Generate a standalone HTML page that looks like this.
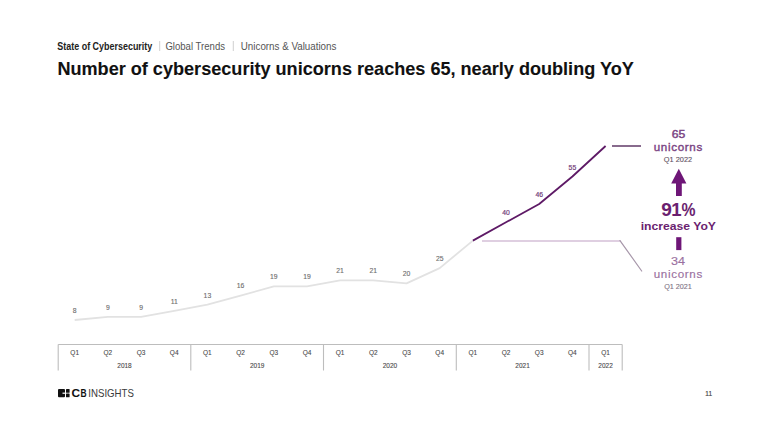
<!DOCTYPE html>
<html><head><meta charset="utf-8">
<style>
html,body{margin:0;padding:0;background:#fff;}
body{width:770px;height:433px;overflow:hidden;position:relative;font-family:"Liberation Sans",sans-serif;}
svg{position:absolute;left:0;top:0;}
text{font-family:"Liberation Sans",sans-serif;}
.dl{font-size:6.8px;text-anchor:middle;}
.dg{fill:#6e6e6e;stroke:#6e6e6e;stroke-width:0.12;}
.dp{fill:#74417a;stroke:#74417a;stroke-width:0.2;}
.ax{font-size:6.5px;text-anchor:middle;fill:#4a4a4a;stroke:#4a4a4a;stroke-width:0.1;}
.bl{stroke:#bdbdbd;stroke-width:1.1;}
</style></head><body>
<svg width="770" height="433" viewBox="0 0 770 433">
<text x="57.3" y="49.5" font-size="10.3" font-weight="bold" fill="#222" textLength="95" lengthAdjust="spacingAndGlyphs">State of Cybersecurity</text>
<line x1="159.7" y1="41" x2="159.7" y2="51" stroke="#c4c4c4" stroke-width="0.8"/>
<text x="165.4" y="49.5" font-size="10.3" fill="#555" textLength="59.6" lengthAdjust="spacingAndGlyphs">Global Trends</text>
<line x1="233.3" y1="41" x2="233.3" y2="51" stroke="#c4c4c4" stroke-width="0.8"/>
<text x="240.8" y="49.5" font-size="10.3" fill="#555" textLength="95.6" lengthAdjust="spacingAndGlyphs">Unicorns &amp; Valuations</text>
<text x="57.4" y="74.7" font-size="19" font-weight="bold" fill="#111" stroke="#111" stroke-width="0.1" textLength="576.4" lengthAdjust="spacingAndGlyphs">Number of cybersecurity unicorns reaches 65, nearly doubling YoY</text>

<polyline points="74.7,320.0 107.9,316.9 141.1,316.9 174.2,310.8 207.4,304.7 240.6,295.6 273.8,286.4 307.0,286.4 340.1,280.3 373.3,280.3 406.5,283.4 439.7,268.1 472.9,240.6" fill="none" stroke="#e2e2e2" stroke-width="1.8" stroke-linejoin="round"/>
<polyline points="472.9,240.6 506.0,222.3 539.2,204.0 572.4,176.5 605.6,146.0" fill="none" stroke="#5e1a66" stroke-width="1.8" stroke-linejoin="round"/>
<text x="74.7" y="312.8" class="dl dg">8</text>
<text x="107.9" y="309.7" class="dl dg">9</text>
<text x="141.1" y="309.7" class="dl dg">9</text>
<text x="174.2" y="303.6" class="dl dg">11</text>
<text x="207.4" y="297.5" class="dl dg">13</text>
<text x="240.6" y="288.4" class="dl dg">16</text>
<text x="273.8" y="279.2" class="dl dg">19</text>
<text x="307.0" y="279.2" class="dl dg">19</text>
<text x="340.1" y="273.1" class="dl dg">21</text>
<text x="373.3" y="273.1" class="dl dg">21</text>
<text x="406.5" y="276.2" class="dl dg">20</text>
<text x="439.7" y="260.9" class="dl dg">25</text>
<text x="506.0" y="215.4" class="dl dp">40</text>
<text x="539.2" y="197.1" class="dl dp">46</text>
<text x="572.4" y="169.6" class="dl dp">55</text>

<line x1="482" y1="241" x2="620.6" y2="241" stroke="#c0a0c4" stroke-width="1.2"/><line x1="620" y1="240.6" x2="641.7" y2="271" stroke="#a797aa" stroke-width="1.2" stroke-linecap="round"/>
<line x1="612" y1="146" x2="641" y2="146" stroke="#4f2457" stroke-width="1.35"/>

<text x="678.5" y="137.9" font-size="11.3" fill="#7b4584" stroke="#7b4584" stroke-width="0.45" text-anchor="middle" textLength="13.5" lengthAdjust="spacingAndGlyphs">65</text>
<text x="678" y="151.4" font-size="11.6" fill="#7b4584" stroke="#7b4584" stroke-width="0.4" text-anchor="middle" textLength="48.5" lengthAdjust="spacing">unicorns</text>
<text x="678" y="162.1" font-size="6.8" fill="#5e5062" stroke="#5e5062" stroke-width="0.1" text-anchor="middle" textLength="28.3" lengthAdjust="spacingAndGlyphs">Q1 2022</text>
<polygon points="678.8,168.8 686.4,183.6 681.8,183.6 681.8,196 676,196 676,183.6 671.2,183.6" fill="#6e1677"/>
<g font-size="18.5" font-weight="bold" fill="#6b1f70" stroke="#6b1f70" stroke-width="0.05"><text x="666.6" y="215.8" text-anchor="middle" textLength="10.6" lengthAdjust="spacingAndGlyphs">9</text><text x="676.4" y="215.8" text-anchor="middle">1</text><text x="688.6" y="215.8" text-anchor="middle" textLength="14" lengthAdjust="spacingAndGlyphs">%</text></g>
<text x="678.3" y="229.8" font-size="11.3" font-weight="bold" fill="#6b1f70" text-anchor="middle" textLength="75.3" lengthAdjust="spacingAndGlyphs">increase YoY</text>
<rect x="676.2" y="237.2" width="5.2" height="12.9" fill="#6e1677"/>
<text x="678" y="264.9" font-size="11.5" fill="#9a70a0" stroke="#9a70a0" stroke-width="0.15" text-anchor="middle" textLength="14" lengthAdjust="spacingAndGlyphs">34</text>
<text x="678" y="277.8" font-size="11.6" fill="#9a70a0" stroke="#9a70a0" stroke-width="0.15" text-anchor="middle" textLength="48.5" lengthAdjust="spacing">unicorns</text>
<text x="678" y="288.6" font-size="6.8" fill="#807285" stroke="#807285" stroke-width="0.1" text-anchor="middle" textLength="27.7" lengthAdjust="spacingAndGlyphs">Q1 2021</text>

<text x="74.7" y="355" class="ax">Q1</text>
<text x="107.9" y="355" class="ax">Q2</text>
<text x="141.1" y="355" class="ax">Q3</text>
<text x="174.2" y="355" class="ax">Q4</text>
<text x="207.4" y="355" class="ax">Q1</text>
<text x="240.6" y="355" class="ax">Q2</text>
<text x="273.8" y="355" class="ax">Q3</text>
<text x="307.0" y="355" class="ax">Q4</text>
<text x="340.1" y="355" class="ax">Q1</text>
<text x="373.3" y="355" class="ax">Q2</text>
<text x="406.5" y="355" class="ax">Q3</text>
<text x="439.7" y="355" class="ax">Q4</text>
<text x="472.9" y="355" class="ax">Q1</text>
<text x="506.0" y="355" class="ax">Q2</text>
<text x="539.2" y="355" class="ax">Q3</text>
<text x="572.4" y="355" class="ax">Q4</text>
<text x="605.6" y="355" class="ax">Q1</text>
<text x="124.5" y="367.5" class="ax">2018</text>
<text x="257.2" y="367.5" class="ax">2019</text>
<text x="389.9" y="367.5" class="ax">2020</text>
<text x="522.6" y="367.5" class="ax">2021</text>
<text x="605.6" y="367.5" class="ax">2022</text>
<line x1="58.2" y1="344.5" x2="58.2" y2="370.5" class="bl"/>
<line x1="190.8" y1="344.5" x2="190.8" y2="370.5" class="bl"/>
<line x1="323.5" y1="344.5" x2="323.5" y2="370.5" class="bl"/>
<line x1="456.3" y1="344.5" x2="456.3" y2="370.5" class="bl"/>
<line x1="589.0" y1="344.5" x2="589.0" y2="370.5" class="bl"/>
<line x1="622.2" y1="344.5" x2="622.2" y2="370.5" class="bl"/>
<line x1="58.2" y1="344.5" x2="622.2" y2="344.5" class="bl"/>


<g fill="#111">
<rect x="58" y="389" width="7" height="8.3" rx="1"/>
<rect x="66" y="389" width="3.6" height="3.8" rx="0.6"/>
<rect x="66" y="393.5" width="3.6" height="3.8" rx="0.6"/>
</g>
<rect x="62.5" y="392.6" width="2.6" height="1.2" fill="#fff"/>
<text x="71.6" y="397.2" font-size="10.5" font-weight="bold" fill="#111" textLength="8.6" lengthAdjust="spacingAndGlyphs">C</text><text x="80.6" y="397.2" font-size="10.5" font-weight="bold" fill="#111" textLength="6.1" lengthAdjust="spacingAndGlyphs">B</text>
<text x="88.3" y="397.2" font-size="10.5" fill="#3a3a3a" textLength="45.6" lengthAdjust="spacingAndGlyphs">INSIGHTS</text>
<text x="708.7" y="396" font-size="6.5" fill="#444" stroke="#444" stroke-width="0.15" text-anchor="middle">11</text>
</svg>
</body></html>
